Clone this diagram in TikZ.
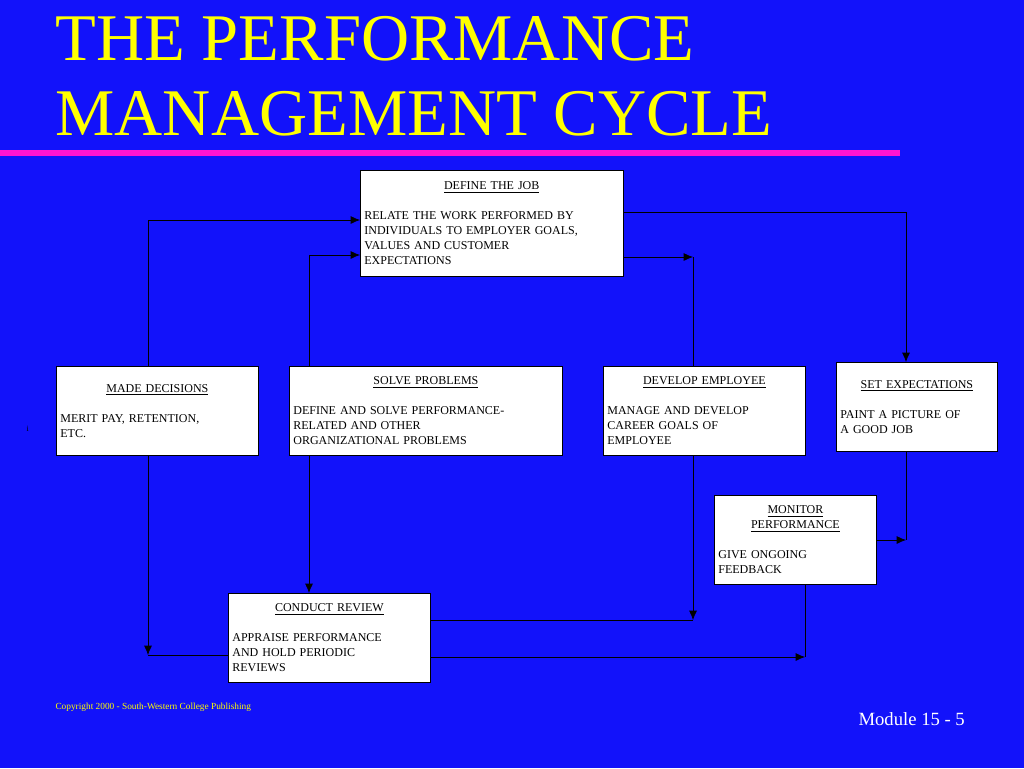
\documentclass[tikz,border=0pt]{standalone}
\usepackage{fontspec}
\setmainfont{Liberation Serif}
\usetikzlibrary{arrows.meta}
\definecolor{slideblue}{RGB}{18,18,250}
\definecolor{slideyellow}{RGB}{255,255,0}
\definecolor{slidepink}{RGB}{255,20,210}
\tikzset{every picture/.style={line width=0.75pt}}
\tikzset{
  stagebox/.style={draw=black, fill=white, anchor=north west, inner sep=3pt, align=left,
    font=\fontsize{9}{11.25}\selectfont, line width=0.6pt},
  flow/.style={draw=black, line width=0.6pt},
  flowtip/.style={flow, -{Latex[length=7pt,width=6pt]}}
}
\newcommand{\stagetext}[2]{{\centering #1\par}\vspace{11.25pt}#2}

\begin{document}
\begin{tikzpicture}[x=0.75pt,y=0.75pt,yscale=-1,xscale=1]
%background
\fill[slideblue] (0,0) rectangle (1024,768);
\useasboundingbox (0,0) rectangle (1024,768);

% Title
\node[anchor=base west, inner sep=0, text=slideyellow, font=\fontsize{50}{50}\selectfont] (title1) at (55,60) {THE PERFORMANCE};
\node[anchor=base west, inner sep=0, text=slideyellow, font=\fontsize{50}{50}\selectfont] (title2) at (55,135) {MANAGEMENT CYCLE};
\draw[slidepink, line width=4pt] (0,153) -- (900,153);

% Boxes
\node[stagebox, text width=191pt, minimum height=79.5pt] (job) at (360,170)
  {\stagetext{\underline{DEFINE THE JOB}}{RELATE THE WORK PERFORMED BY\\INDIVIDUALS TO EMPLOYER GOALS,\\VALUES AND CUSTOMER\\EXPECTATIONS}};
\node[stagebox, text width=145.5pt, minimum height=66.75pt] (decide) at (56,366)
  {\stagetext{\underline{MADE DECISIONS}}{MERIT PAY, RETENTION,\\ETC.}};
\node[stagebox, text width=198.75pt, minimum height=66.75pt] (solve) at (289,366)
  {\stagetext{\underline{SOLVE PROBLEMS}}{DEFINE AND SOLVE PERFORMANCE-\\RELATED AND OTHER\\ORGANIZATIONAL PROBLEMS}};
\node[stagebox, text width=145.5pt, minimum height=66.75pt] (develop) at (603,366)
  {\stagetext{\underline{DEVELOP EMPLOYEE}}{MANAGE AND DEVELOP\\CAREER GOALS OF\\EMPLOYEE}};
\node[stagebox, text width=114.75pt, minimum height=66.75pt] (expect) at (836,362)
  {\stagetext{\underline{SET EXPECTATIONS}}{PAINT A PICTURE OF\\A GOOD JOB}};
\node[stagebox, text width=115.5pt, minimum height=66.75pt] (monitor) at (714,495)
  {\stagetext{\underline{MONITOR}\\\underline{PERFORMANCE}}{GIVE ONGOING\\FEEDBACK}};
\node[stagebox, text width=145.5pt, minimum height=66.75pt] (review) at (228,593)
  {\stagetext{\underline{CONDUCT REVIEW}}{APPRAISE PERFORMANCE\\AND HOLD PERIODIC\\REVIEWS}};

% Corners
\coordinate (c1) at (148,220);
\coordinate (c2) at (309,255);
\coordinate (c3) at (906,212);
\coordinate (c4) at (693,257);
\coordinate (c5) at (906,540);
\coordinate (c6) at (693,620);
\coordinate (c7) at (805,657);
\coordinate (c8) at (148,655);

% Connectors
\draw[flow] (148,366) -- (c1);
\draw[flowtip] (c1) -- (job.west|-c1);
\draw[flow] (309,366) -- (c2);
\draw[flowtip] (c2) -- (job.west|-c2);
\draw[flow] (job.east|-c3) -- (c3);
\draw[flowtip] (c3) -- (c3|-expect.north);
\draw[flowtip] (job.east|-c4) -- (c4);
\draw[flow] (c4) -- (c4|-develop.north);
\draw[flow] (c5|-expect.south) -- (c5);
\draw[flowtip] (monitor.east|-c5) -- (c5);
\draw[flowtip] (c6|-develop.south) -- (c6);
\draw[flow] (review.east|-c6) -- (c6);
\draw[flowtip] (review.east|-c7) -- (c7);
\draw[flow] (c7) -- (c7|-monitor.south);
\draw[flowtip] (c8|-decide.south) -- (c8);
\draw[flow] (c8) -- (review.west|-c8);
\draw[flowtip] (309,455) -- (309,593);

% Footer
\node[anchor=base west, inner sep=0, text=black, font=\fontsize{6}{6}\selectfont] (mark) at (26,431) {i};
\node[anchor=base west, inner sep=0, text=slideyellow, font=\fontsize{7}{7}\selectfont] (copy) at (55,709) {Copyright 2000 - South-Western College Publishing};
\node[anchor=base west, inner sep=0, text=white, font=\fontsize{14}{14}\selectfont] (module) at (858,725) {Module 15 - 5};
\end{tikzpicture}
\end{document}
